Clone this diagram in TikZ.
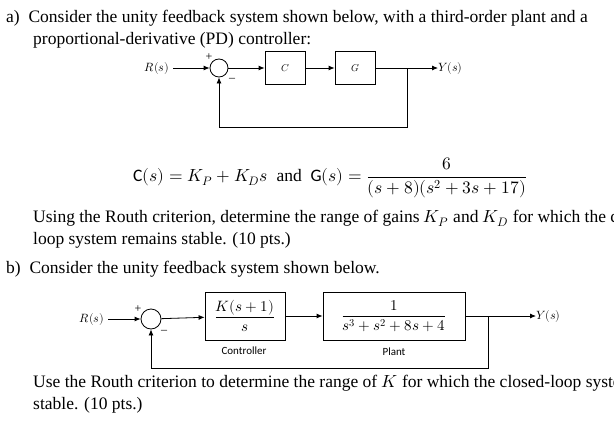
\documentclass[tikz,border=0pt]{standalone}
\usepackage{amsmath}
\usepackage{fontspec}
\usepackage{unicode-math}
\setmainfont{Liberation Serif}
\setmathfont{Latin Modern Math}
\newfontfamily\calfont{Carlito}
\usetikzlibrary{arrows.meta}
\begin{document}
\begin{tikzpicture}[x=1pt,y=-1pt,
  txt/.style={anchor=west,inner sep=0,font=\fontsize{17.5}{20}\selectfont},
  sm/.style={inner sep=0,font=\fontsize{12}{14}\selectfont},
  blk/.style={draw,thick,minimum width=#1,minimum height=33,inner sep=0},
  sig/.style={thick,-{Latex[length=6,width=5]}},
  ln/.style={thick},
  sum/.style={draw,thick,circle,minimum size=18,inner sep=0}]
\useasboundingbox (0,0) rectangle (614,442);
\node[txt] (t1) at (6,18) {a)\ \ Consider the unity feedback system shown below, with a third-order plant and a};
\node[txt] (t2) at (33,40) {proportional-derivative (PD) controller:};
% diagram 1
\node[sm] (r1) at (157,68) {$R(s)$};
\node[sum] (s1) at (219,68) {};
\node[blk=40] (c) at (285,68) {$C$};
\node[blk=40] (g) at (355,68) {$G$};
\coordinate (o1) at (407,68);
\node[sm,anchor=west] (y1) at (438,68) {$Y(s)$};
\coordinate (f1) at (407,127);
\coordinate (f2) at (219,127);
\node[sm] (p1) at (209,57) {+};
\node[sm] (m1) at (232,80) {--};
\draw[sig] (r1.east)+(4,0) -- (s1);
\draw[sig] (s1) -- (c);
\draw[sig] (c) -- (g);
\draw[sig] (g) -- (y1.west);
\draw[ln] (o1) -- (f1) -- (f2);
\draw[sig] (f2) -- (s1);
% equation
\node[txt] (eq) at (133,178) {{\calfont C}$(s)=K_{P}+K_{D}s$\ \ and\ \ {\calfont G}$(s)=\dfrac{6}{(s+8)(s^2+3s+17)}$};
\node[txt] (t3) at (33,218) {Using the Routh criterion, determine the range of gains $K_{P}$ and $K_{D}$ for which the closed-};
\node[txt] (t4) at (33,240) {loop system remains stable. (10 pts.)};
\node[txt] (t5) at (6,269) {b)\ \ Consider the unity feedback system shown below.};
% diagram 2
\node[sm] (r2) at (92,319) {$R(s)$};
\node[sum,minimum size=20] (s2) at (151,319) {};
\node[blk=80,minimum height=48] (k) at (245,316) {\fontsize{15}{17}\selectfont$\dfrac{K(s+1)}{s}$};
\node[blk=142,minimum height=48] (pl) at (394,316) {\fontsize{15}{17}\selectfont$\dfrac{1}{s^3+s^2+8s+4}$};
\node[sm,font=\calfont\fontsize{11}{13}\selectfont] (kl) at (244,351) {Controller};
\node[sm,font=\calfont\fontsize{11}{13}\selectfont] (pll) at (394,352) {Plant};
\coordinate (o2) at (488,316);
\node[sm,anchor=west] (y2) at (536,316) {$Y(s)$};
\coordinate (f3) at (488,368);
\coordinate (f4) at (151,368);
\node[sm] (p2) at (138,309) {+};
\node[sm] (m2) at (164,332) {--};
\draw[sig] (r2.east)+(4,0) -- (s2);
\draw[sig] (s2) -- (k);
\draw[sig] (k) -- (pl);
\draw[sig] (pl) -- (y2.west);
\draw[ln] (o2) -- (f3) -- (f4);
\draw[sig] (f4) -- (s2);
\node[txt] (t6) at (33,383) {Use the Routh criterion to determine the range of $K$ for which the closed-loop system is};
\node[txt] (t7) at (33,405) {stable. (10 pts.)};
\end{tikzpicture}
\end{document}
